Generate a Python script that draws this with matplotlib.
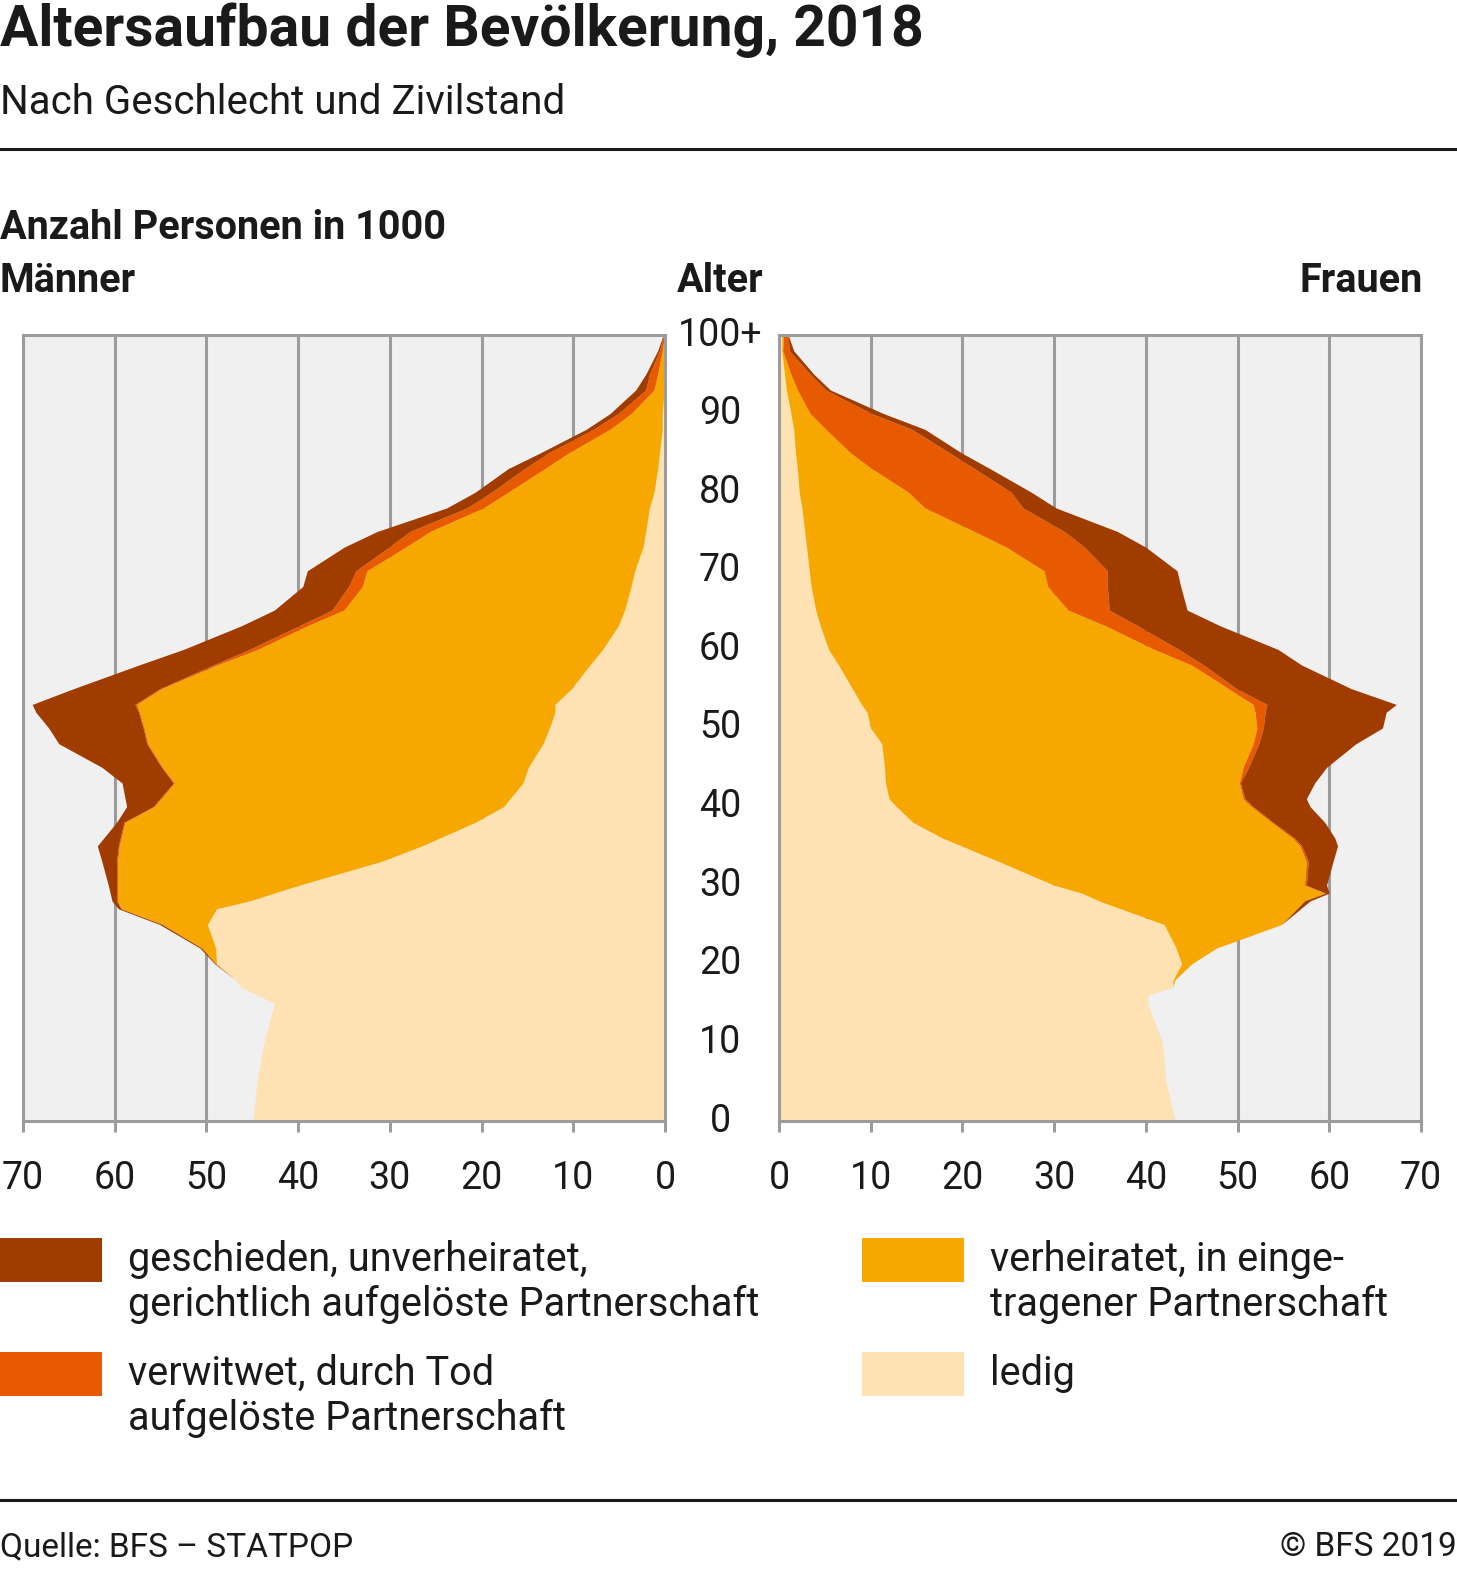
import numpy as np
import matplotlib.pyplot as plt
from matplotlib.patches import Rectangle
from matplotlib.lines import Line2D

plt.rcParams['font.family'] = ['Roboto', 'DejaVu Sans']

# Farben
C_GESCH = "#a03c00"
C_VERW = "#e85a00"
C_VERH = "#f6a800"
C_LEDIG = "#fee2b3"

# Männer: kumulierte Umrisse (in 1000), gelesen aus der Grafik
men_age = [0, 5, 10, 15, 17, 18, 20, 22, 25, 27, 28, 30, 33, 35, 38, 40, 43, 45, 48, 50,
           52, 53, 55, 58, 60, 63, 65, 68, 70, 73, 75, 78, 80, 83, 85, 88, 90, 93, 95, 98, 100]
men_ledig = [44.9, 44.5, 43.7, 42.6, 46.2, 46.9, 48.9, 49.0, 49.9, 48.9, 45.3, 39.9, 31.0, 26.5, 20.7,
             17.6, 15.5, 14.9, 13.3, 12.6, 12.0, 12.0, 10.2, 8.2, 6.8, 5.1, 4.4, 3.7, 3.3, 2.4, 2.1,
             1.7, 1.2, 0.8, 0.6, 0.3, 0.3, 0.1, 0.05, 0, 0]
men_bis_verh = [44.9, 44.5, 43.7, 42.6, 46.2, 46.9, 49.0, 50.5, 54.8, 59.3, 59.7, 59.7, 59.7, 59.5, 58.9,
                55.7, 53.5, 54.8, 56.4, 56.8, 57.3, 57.6, 54.9, 48.9, 44.4, 39.0, 35.0, 33.0, 32.5, 28.3,
                25.6, 19.8, 17.1, 13.1, 10.5, 6.0, 3.7, 1.2, 0.8, 0.3, 0.05]
men_bis_verw = [44.9, 44.5, 43.7, 42.6, 46.2, 46.9, 49.0, 50.5, 54.8, 59.3, 59.8, 59.8, 59.8, 59.6, 59.0,
                55.8, 53.6, 54.9, 56.5, 56.9, 57.4, 57.8, 55.1, 49.3, 45.3, 39.9, 36.3, 34.5, 33.7, 30.1,
                27.8, 21.6, 18.9, 15.3, 12.7, 7.8, 5.1, 2.1, 1.7, 0.6, 0.15]
men_total = [44.9, 44.5, 43.7, 42.6, 46.2, 46.9, 49.1, 50.7, 55.1, 59.6, 60.3, 60.7, 61.4, 61.9, 59.8,
             58.7, 59.2, 61.4, 66.1, 67.2, 68.6, 69.0, 64.5, 57.4, 52.5, 46.2, 42.6, 39.5, 39.0, 35.0,
             31.4, 23.8, 20.7, 17.1, 13.6, 8.6, 6.0, 3.2, 2.1, 0.8, 0.2]

# Frauen
women_age = [0, 5, 10, 15, 16, 17, 18, 20, 22, 25, 28, 29, 30, 33, 35, 36, 38, 40, 41, 43, 45, 48,
             50, 52, 53, 55, 58, 60, 63, 65, 68, 70, 73, 75, 78, 80, 83, 85, 88, 90, 93, 95, 98, 100]
women_ledig = [43.2, 42.2, 41.8, 40.2, 40.2, 42.9, 43.0, 43.9, 43.3, 42.0, 34.9, 33.0, 30.0, 24.0, 19.9,
               17.8, 14.6, 12.8, 12.0, 11.6, 11.5, 11.2, 10.0, 9.6, 9.0, 8.0, 6.5, 5.4, 4.5, 4.0, 3.5,
               3.3, 3.0, 2.8, 2.5, 2.2, 2.0, 1.8, 1.6, 1.3, 0.8, 0.6, 0.3, 0.3]
women_bis_verh = [43.2, 42.2, 41.8, 40.2, 40.2, 42.9, 43.2, 45.0, 47.7, 54.8, 57.3, 59.5, 57.3, 57.5,
                  56.8, 56.0, 53.7, 51.5, 50.6, 50.2, 50.6, 51.7, 52.1, 51.9, 51.7, 49.0, 45.0, 40.9,
                  35.6, 31.5, 29.3, 28.9, 24.8, 21.3, 15.9, 14.1, 10.1, 7.8, 5.1, 3.4, 2.0, 1.3, 0.4, 0.5]
women_bis_verw = [43.2, 42.2, 41.8, 40.2, 40.2, 42.9, 43.2, 45.0, 47.7, 54.8, 57.3, 59.6, 57.5, 57.7,
                  57.0, 56.2, 53.9, 51.7, 50.8, 50.3, 51.2, 52.3, 52.8, 53.0, 53.2, 49.9, 46.3, 43.6,
                  39.1, 36.0, 35.8, 35.8, 33.3, 31.1, 26.6, 25.3, 21.3, 18.6, 14.5, 10.1, 5.1, 3.4, 1.1, 1.0]
women_total = [43.2, 42.2, 41.8, 40.2, 40.2, 42.9, 43.2, 45.0, 47.7, 54.8, 57.9, 60.0, 59.7, 60.4, 60.9,
               60.6, 59.5, 57.9, 57.5, 58.4, 59.7, 62.9, 65.8, 66.2, 67.3, 62.4, 57.0, 54.4, 48.1, 44.5,
               43.8, 43.4, 40.0, 36.9, 30.2, 27.5, 23.0, 19.9, 15.9, 11.4, 5.6, 3.8, 1.6, 1.0]

x_ticks = [0, 10, 20, 30, 40, 50, 60, 70]
age_ticks = [0, 10, 20, 30, 40, 50, 60, 70, 80, 90, 100]
age_labels = ["0", "10", "20", "30", "40", "50", "60", "70", "80", "90", "100+"]

legend_items = [
    ("geschieden, unverheiratet,\ngerichtlich aufgelöste Partnerschaft", C_GESCH),
    ("verwitwet, durch Tod\naufgelöste Partnerschaft", C_VERW),
    ("verheiratet, in einge-\ntragener Partnerschaft", C_VERH),
    ("ledig", C_LEDIG),
]

W, H = 1457, 1581
fig = plt.figure(figsize=(W / 100, H / 100), dpi=100)
TXT = "#1a1a1a"


def fx(px):
    return px / W


def fy(py):
    return 1 - py / H


def draw_panel(ax, age, ledig, verh, verw, total):
    age = np.array(age)
    layers = [(np.zeros(len(age)), ledig, C_LEDIG), (ledig, verh, C_VERH),
              (verh, verw, C_VERW), (verw, total, C_GESCH)]
    ax.set_facecolor("#f0f0f0")
    for lo, hi, col in layers:
        ax.fill_betweenx(age, lo, hi, where=np.array(hi) > np.array(lo), color=col, lw=0,
                         zorder=2, interpolate=True)
    ax.set_xlim(0, 70)
    ax.set_ylim(0, 100)
    ax.set_xticks(x_ticks)
    ax.set_yticks([])
    ax.grid(axis="x", color="#9c9c9c", lw=2.2, zorder=1)
    ax.tick_params(axis="x", length=8, width=2.2, color="#9c9c9c", labelsize=27,
                   pad=20, labelcolor=TXT)
    for s in ax.spines.values():
        s.set_color("#9c9c9c")
        s.set_linewidth(2.2)


ax_m = fig.add_axes([fx(23), fy(1121), fx(642), 786 / H])
draw_panel(ax_m, men_age, men_ledig, men_bis_verh, men_bis_verw, men_total)
ax_m.invert_xaxis()

ax_w = fig.add_axes([fx(779), fy(1121), fx(642), 786 / H])
draw_panel(ax_w, women_age, women_ledig, women_bis_verh, women_bis_verw, women_total)

# Altersbeschriftung in der Mitte
for a, lab in zip(age_ticks, age_labels):
    fig.text(fx(720), fy(1121 - a * 7.86), lab, ha="center", va="center",
             fontsize=27, color=TXT)

# Titel und Texte
fig.text(0, fy(30), "Altersaufbau der Bevölkerung, 2018", fontsize=41, fontweight="bold",
         va="center", color=TXT)
fig.text(0, fy(103), "Nach Geschlecht und Zivilstand", fontsize=29, va="center", color=TXT)
fig.text(0, fy(228), "Anzahl Personen in 1000", fontsize=28.5, fontweight="bold", va="center",
         color=TXT)
fig.text(0, fy(281), "Männer", fontsize=28.5, fontweight="bold", va="center", color=TXT)
fig.text(fx(720), fy(281), "Alter", fontsize=28.5, fontweight="bold", va="center", ha="center",
         color=TXT)
fig.text(fx(1423), fy(281), "Frauen", fontsize=28.5, fontweight="bold", va="center", ha="right",
         color=TXT)

for py in (149, 1500):
    fig.add_artist(Line2D([0, 1], [fy(py), fy(py)], color=TXT, lw=2.2))

# Legende
pos = [(0, 1238), (0, 1352), (862, 1238), (862, 1352)]
for (label, col), (px, py) in zip(legend_items, pos):
    fig.add_artist(Rectangle((fx(px), fy(py + 44)), fx(102), 44 / H, color=col, lw=0))
    fig.text(fx(px + 128), fy(py + 2), label, fontsize=28.5,
             va="top", linespacing=1.2, color=TXT)

fig.text(0, fy(1547), "Quelle: BFS – STATPOP", fontsize=24, va="center", color=TXT)
fig.text(1, fy(1547), "© BFS 2019", fontsize=24, va="center", ha="right", color=TXT)

fig.savefig("out.png", dpi=100)
